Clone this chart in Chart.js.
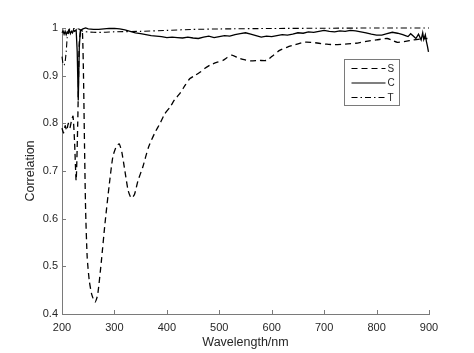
<!DOCTYPE html>
<html>
<head>
<meta charset="utf-8">
<script src="https://cdn.jsdelivr.net/npm/chart.js@4.4.1/dist/chart.umd.min.js"></script>
<style>
  html, body { margin: 0; padding: 0; background: #fff; }
  #wrap { width: 474px; height: 353px; position: relative; }
</style>
</head>
<body>
<div id="wrap"><canvas id="chart"></canvas></div>
<script>
// S series (dashed)
const sWave = [200, 203, 206, 209, 212, 215, 218, 221, 224, 227, 230, 233, 236, 239, 241, 243, 245, 248, 252, 257, 263, 268, 275, 282, 290, 297, 303, 309, 314, 320, 326, 332, 338, 345, 354, 365, 377, 387, 396, 406, 415, 425, 435, 444, 453, 463, 472, 482, 495, 507, 515, 524, 535, 545, 560, 575, 590, 600, 615, 630, 645, 660, 675, 690, 705, 720, 740, 760, 780, 800, 820, 830, 840, 855, 870, 885, 897];
const sCorr = [0.79, 0.78, 0.795, 0.785, 0.80, 0.79, 0.805, 0.815, 0.76, 0.68, 0.80, 0.97, 0.995, 0.99, 0.90, 0.75, 0.62, 0.52, 0.47, 0.44, 0.425, 0.44, 0.51, 0.59, 0.67, 0.73, 0.75, 0.757, 0.74, 0.70, 0.66, 0.643, 0.65, 0.68, 0.708, 0.75, 0.78, 0.80, 0.82, 0.834, 0.85, 0.863, 0.88, 0.894, 0.90, 0.907, 0.915, 0.922, 0.928, 0.932, 0.938, 0.943, 0.938, 0.934, 0.931, 0.932, 0.932, 0.94, 0.953, 0.96, 0.965, 0.97, 0.97, 0.968, 0.966, 0.965, 0.966, 0.968, 0.972, 0.975, 0.978, 0.974, 0.97, 0.972, 0.975, 0.977, 0.978];

// C series (solid)
const cWave = [200, 202, 204, 206, 208, 210, 212, 214, 216, 218, 220, 222, 224, 227, 229, 231, 233, 235, 240, 245, 250, 260, 270, 280, 290, 300, 310, 320, 330, 340, 350, 360, 370, 380, 390, 400, 410, 420, 430, 440, 450, 460, 470, 480, 490, 500, 510, 520, 530, 540, 550, 560, 570, 580, 590, 600, 610, 620, 630, 640, 650, 660, 670, 680, 690, 700, 710, 720, 730, 740, 750, 760, 770, 780, 790, 800, 810, 820, 830, 840, 850, 855, 860, 865, 870, 875, 880, 885, 888, 890, 893, 895, 897, 899];
const cCorr = [0.99, 0.994, 0.987, 0.993, 0.986, 0.992, 0.989, 0.995, 0.988, 0.993, 0.99, 0.996, 0.993, 0.996, 0.95, 0.848, 0.96, 0.995, 0.998, 1.0, 0.998, 0.997, 0.997, 0.998, 0.999, 0.999, 0.998, 0.996, 0.993, 0.99, 0.988, 0.986, 0.984, 0.983, 0.982, 0.98, 0.981, 0.98, 0.979, 0.981, 0.979, 0.978, 0.981, 0.983, 0.98, 0.982, 0.984, 0.983, 0.986, 0.988, 0.99, 0.987, 0.984, 0.981, 0.983, 0.982, 0.984, 0.986, 0.985, 0.987, 0.99, 0.989, 0.992, 0.991, 0.993, 0.995, 0.993, 0.992, 0.994, 0.993, 0.995, 0.994, 0.992, 0.99, 0.987, 0.985, 0.985, 0.988, 0.991, 0.989, 0.986, 0.984, 0.982, 0.988, 0.983, 0.978, 0.987, 0.975, 0.99, 0.976, 0.986, 0.972, 0.962, 0.95];

// T series (dash-dot)
const tWave = [200, 202, 204, 206, 208, 210, 213, 218, 225, 232, 240, 260, 280, 300, 350, 400, 450, 500, 600, 700, 800, 900];
const tCorr = [0.94, 0.925, 0.922, 0.93, 0.95, 0.98, 0.997, 0.998, 0.999, 0.998, 0.993, 0.991, 0.991, 0.992, 0.993, 0.995, 0.997, 0.998, 0.999, 0.9995, 1.0, 1.0];

const xTicks = [200, 300, 400, 500, 600, 700, 800, 900];
const yTicks = [0.4, 0.5, 0.6, 0.7, 0.8, 0.9, 1];

const axisColor = "#7a7a7a";
const textColor = "#262626";
const fontFamily = "'Liberation Sans', Arial, sans-serif";

const toPoints = (xs, ys) => xs.map((x, i) => ({ x: x, y: ys[i] }));

// ticks point inward, like the original figure
const innerTicks = {
    id: "innerTicks",
    afterDraw(chart) {
        const { ctx, chartArea, scales } = chart;
        ctx.save();
        ctx.strokeStyle = axisColor;
        ctx.lineWidth = 1;
        ctx.beginPath();
        xTicks.forEach(v => {
            const px = Math.round(scales.x.getPixelForValue(v)) + 0.5;
            ctx.moveTo(px, chartArea.bottom);
            ctx.lineTo(px, chartArea.bottom - 4);
        });
        yTicks.forEach(v => {
            const py = Math.round(scales.y.getPixelForValue(v)) + 0.5;
            ctx.moveTo(chartArea.left, py);
            ctx.lineTo(chartArea.left + 4, py);
        });
        ctx.stroke();
        ctx.restore();
    }
};

// boxed legend with line samples on the left
const boxLegend = {
    id: "boxLegend",
    afterDraw(chart) {
        const { ctx } = chart;
        const bx = 344.5, by = 59.5, bw = 55, bh = 46;
        ctx.save();
        ctx.fillStyle = "#fff";
        ctx.fillRect(bx, by, bw, bh);
        ctx.strokeStyle = axisColor;
        ctx.lineWidth = 1;
        ctx.strokeRect(bx, by, bw, bh);
        ctx.font = "10px " + fontFamily;
        ctx.textBaseline = "middle";
        chart.data.datasets.forEach((ds, i) => {
            const y = by + 9 + i * 14.5;
            ctx.strokeStyle = "#000";
            ctx.lineWidth = 1.2;
            ctx.setLineDash(ds.borderDash || []);
            ctx.beginPath();
            ctx.moveTo(bx + 7, y);
            ctx.lineTo(bx + 41, y);
            ctx.stroke();
            ctx.setLineDash([]);
            ctx.fillStyle = textColor;
            ctx.fillText(ds.label, bx + 43, y + 0.5);
        });
        ctx.restore();
    }
};

new Chart(document.getElementById("chart"), {
    type: "line",
    plugins: [innerTicks, boxLegend],
    data: {
        datasets: [
            { label: "S", data: toPoints(sWave, sCorr), borderColor: "#000", borderWidth: 1.3, borderDash: [6, 4], tension: 0.2 },
            { label: "C", data: toPoints(cWave, cCorr), borderColor: "#000", borderWidth: 1.3, borderDash: [], tension: 0 },
            { label: "T", data: toPoints(tWave, tCorr), borderColor: "#000", borderWidth: 1.1, borderDash: [6, 3, 1.5, 3], tension: 0.2 }
        ]
    },
    options: {
        responsive: true,
        maintainAspectRatio: false,
        animation: false,
        layout: { padding: { left: 0, right: 45, top: 28, bottom: 0 } },
        elements: { point: { radius: 0 }, line: { fill: false } },
        datasets: { line: { clip: false } },
        plugins: { legend: { display: false }, tooltip: { enabled: false } },
        scales: {
            x: {
                type: "linear",
                min: 200,
                max: 900,
                afterFit: scale => { scale.height = 39; },
                afterBuildTicks: scale => { scale.ticks = xTicks.map(v => ({ value: v })); },
                grid: { display: false, drawTicks: false },
                border: { display: true, color: axisColor, width: 1 },
                ticks: { color: textColor, padding: 7, font: { family: fontFamily, size: 11 } },
                title: { display: true, text: "Wavelength/nm", color: textColor, padding: { top: 3, bottom: 3 }, font: { family: fontFamily, size: 12.5 } }
            },
            y: {
                type: "linear",
                min: 0.4,
                max: 1,
                afterFit: scale => { scale.width = 62; },
                afterBuildTicks: scale => { scale.ticks = yTicks.map(v => ({ value: v })); },
                grid: { display: false, drawTicks: false },
                border: { display: true, color: axisColor, width: 1 },
                ticks: {
                    color: textColor,
                    padding: 4,
                    font: { family: fontFamily, size: 11 },
                    callback: v => (v === 1 ? "1" : v.toFixed(1))
                },
                title: { display: true, text: "Correlation", color: textColor, padding: { top: 23, bottom: 0 }, font: { family: fontFamily, size: 12.5 } }
            }
        }
    }
});
</script>
</body>
</html>
